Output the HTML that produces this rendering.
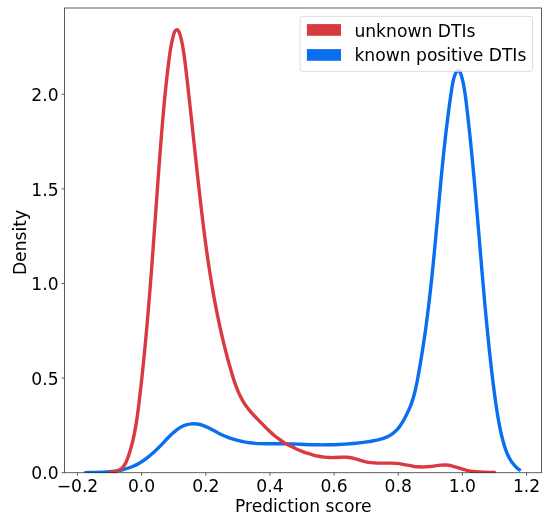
<!DOCTYPE html>
<html lang="en"><head><meta charset="utf-8"><title>Density of prediction scores</title>
<style>html,body{margin:0;padding:0;background:#fff}svg{display:block}text{font-family:"DejaVu Sans","Liberation Sans",sans-serif;font-size:17.15px;fill:#000}</style></head><body>
<svg width="550" height="520" viewBox="0 0 550 520">
<rect width="550" height="520" fill="#fff"/>
<defs><clipPath id="ax"><rect x="64.50" y="8.00" width="477.00" height="464.70"/></clipPath></defs>
<g clip-path="url(#ax)" fill="none" stroke-width="3.4" stroke-linejoin="round">
<path stroke="#096fef" d="M84.35 472.59C86.15 472.55 87.98 472.52 89.82 472.50C91.66 472.47 93.52 472.44 95.39 472.41C97.25 472.37 99.13 472.32 101.01 472.25C102.89 472.18 104.77 472.09 106.65 471.96C108.53 471.83 110.41 471.67 112.28 471.46C114.14 471.25 116.00 470.99 117.84 470.68C119.68 470.37 121.51 469.99 123.31 469.55C125.11 469.11 126.89 468.60 128.64 468.01C130.39 467.42 132.11 466.74 133.80 465.98C135.49 465.22 137.14 464.37 138.76 463.45C140.38 462.54 141.97 461.55 143.51 460.49C145.06 459.44 146.57 458.34 148.05 457.18C149.52 456.02 150.96 454.82 152.36 453.58C153.76 452.34 155.11 451.07 156.44 449.77C157.76 448.48 159.06 447.16 160.35 445.83C161.63 444.50 162.91 443.16 164.20 441.81C165.48 440.47 166.77 439.13 168.09 437.80C169.41 436.47 170.75 435.14 172.14 433.86C173.52 432.57 174.95 431.33 176.43 430.19C177.92 429.04 179.46 428.00 181.07 427.10C182.67 426.21 184.35 425.46 186.11 424.92C187.87 424.38 189.72 424.04 191.60 423.90C193.47 423.76 195.38 423.82 197.25 424.05C199.13 424.29 200.97 424.71 202.74 425.30C204.50 425.89 206.20 426.63 207.87 427.46C209.54 428.28 211.17 429.19 212.80 430.10C214.43 431.01 216.07 431.92 217.73 432.78C219.40 433.63 221.09 434.43 222.79 435.19C224.50 435.94 226.23 436.64 227.97 437.30C229.72 437.95 231.48 438.56 233.26 439.11C235.04 439.67 236.83 440.17 238.64 440.62C240.44 441.08 242.26 441.48 244.08 441.83C245.91 442.18 247.74 442.48 249.59 442.73C251.43 442.98 253.27 443.18 255.13 443.33C256.98 443.47 258.83 443.57 260.69 443.63C262.55 443.69 264.41 443.72 266.27 443.73C268.14 443.73 270.00 443.72 271.87 443.71C273.74 443.70 275.61 443.68 277.48 443.68C279.35 443.68 281.23 443.69 283.10 443.72C284.97 443.75 286.85 443.80 288.72 443.86C290.60 443.92 292.47 443.99 294.34 444.06C296.21 444.14 298.09 444.21 299.96 444.29C301.83 444.37 303.70 444.45 305.56 444.52C307.43 444.59 309.29 444.65 311.15 444.70C313.01 444.76 314.87 444.79 316.73 444.82C318.58 444.85 320.43 444.86 322.28 444.86C324.14 444.86 325.99 444.84 327.83 444.81C329.68 444.78 331.53 444.74 333.38 444.68C335.23 444.62 337.08 444.55 338.93 444.46C340.78 444.37 342.63 444.27 344.49 444.15C346.34 444.03 348.20 443.89 350.06 443.74C351.91 443.59 353.78 443.42 355.64 443.23C357.51 443.04 359.38 442.84 361.25 442.62C363.13 442.39 365.01 442.15 366.89 441.89C368.77 441.63 370.66 441.35 372.53 441.02C374.40 440.69 376.25 440.32 378.07 439.87C379.89 439.43 381.68 438.91 383.41 438.31C385.14 437.70 386.82 437.00 388.42 436.19C390.03 435.37 391.56 434.44 393.01 433.36C394.46 432.29 395.81 431.08 397.06 429.71C398.31 428.33 399.46 426.82 400.53 425.23C401.61 423.63 402.61 421.96 403.55 420.27C404.50 418.57 405.40 416.88 406.25 415.19C407.11 413.51 407.92 411.84 408.69 410.15C409.45 408.47 410.17 406.78 410.83 405.07C411.49 403.36 412.10 401.63 412.66 399.87C413.22 398.12 413.73 396.35 414.21 394.56C414.69 392.77 415.13 390.97 415.54 389.15C415.95 387.34 416.33 385.52 416.70 383.69C417.07 381.85 417.42 380.02 417.76 378.18C418.10 376.34 418.43 374.50 418.76 372.66C419.09 370.82 419.42 368.98 419.73 367.14C420.05 365.30 420.37 363.46 420.67 361.62C420.98 359.78 421.29 357.94 421.58 356.09C421.88 354.25 422.18 352.41 422.46 350.56C422.75 348.72 423.04 346.88 423.32 345.03C423.60 343.19 423.87 341.34 424.14 339.50C424.41 337.65 424.68 335.81 424.94 333.96C425.20 332.12 425.46 330.27 425.71 328.43C425.97 326.58 426.22 324.73 426.46 322.88C426.71 321.04 426.95 319.19 427.19 317.34C427.42 315.49 427.66 313.64 427.89 311.79C428.12 309.95 428.35 308.10 428.57 306.25C428.80 304.40 429.02 302.55 429.24 300.70C429.45 298.84 429.67 296.99 429.88 295.14C430.09 293.29 430.30 291.44 430.50 289.59C430.71 287.73 430.91 285.88 431.11 284.03C431.31 282.18 431.51 280.32 431.71 278.47C431.90 276.61 432.10 274.76 432.29 272.91C432.48 271.05 432.67 269.20 432.85 267.34C433.04 265.49 433.22 263.63 433.41 261.78C433.59 259.92 433.77 258.07 433.95 256.21C434.13 254.35 434.31 252.50 434.48 250.64C434.66 248.79 434.84 246.93 435.01 245.07C435.19 243.22 435.36 241.36 435.53 239.50C435.70 237.65 435.88 235.79 436.05 233.93C436.22 232.07 436.39 230.22 436.56 228.36C436.73 226.50 436.90 224.65 437.06 222.79C437.23 220.93 437.40 219.07 437.57 217.22C437.74 215.36 437.91 213.50 438.08 211.64C438.24 209.79 438.41 207.93 438.58 206.07C438.75 204.21 438.92 202.35 439.09 200.50C439.26 198.64 439.43 196.78 439.60 194.93C439.77 193.07 439.95 191.21 440.12 189.35C440.29 187.50 440.47 185.64 440.64 183.78C440.82 181.93 440.99 180.07 441.17 178.21C441.35 176.36 441.53 174.50 441.71 172.64C441.89 170.79 442.07 168.93 442.26 167.08C442.44 165.22 442.63 163.36 442.82 161.51C443.01 159.65 443.20 157.80 443.39 155.94C443.58 154.09 443.78 152.23 443.97 150.38C444.17 148.53 444.37 146.67 444.57 144.82C444.78 142.96 444.98 141.11 445.19 139.26C445.40 137.41 445.61 135.55 445.82 133.70C446.04 131.85 446.26 130.00 446.48 128.15C446.70 126.29 446.92 124.44 447.15 122.59C447.38 120.74 447.61 118.89 447.84 117.04C448.08 115.19 448.31 113.34 448.56 111.49C448.80 109.65 449.04 107.80 449.30 105.95C449.55 104.10 449.80 102.26 450.06 100.41C450.32 98.56 450.58 96.72 450.85 94.87C451.12 93.03 451.39 91.18 451.67 89.34C451.95 87.49 452.24 85.65 452.58 83.82C452.92 81.99 453.32 80.17 453.81 78.37C454.31 76.58 454.89 74.80 455.62 73.05C456.34 71.30 458.24 69.55 459.41 71.06C460.58 72.58 461.04 74.51 461.56 76.27C462.08 78.03 462.52 79.85 462.92 81.68C463.31 83.51 463.67 85.34 464.00 87.18C464.33 89.02 464.63 90.86 464.91 92.71C465.18 94.55 465.44 96.40 465.68 98.25C465.92 100.10 466.15 101.95 466.37 103.80C466.59 105.65 466.81 107.50 467.02 109.35C467.24 111.20 467.45 113.06 467.66 114.91C467.87 116.76 468.08 118.61 468.29 120.46C468.49 122.32 468.69 124.17 468.89 126.02C469.09 127.88 469.29 129.73 469.49 131.58C469.69 133.44 469.88 135.29 470.07 137.14C470.27 139.00 470.46 140.85 470.64 142.71C470.83 144.56 471.02 146.41 471.20 148.27C471.39 150.12 471.57 151.98 471.75 153.83C471.94 155.69 472.12 157.54 472.29 159.40C472.47 161.25 472.65 163.11 472.82 164.96C473.00 166.82 473.17 168.68 473.34 170.53C473.52 172.39 473.69 174.24 473.86 176.10C474.03 177.96 474.20 179.81 474.36 181.67C474.53 183.52 474.70 185.38 474.86 187.24C475.03 189.09 475.19 190.95 475.35 192.81C475.52 194.67 475.68 196.52 475.84 198.38C476.00 200.24 476.16 202.09 476.32 203.95C476.48 205.81 476.64 207.67 476.80 209.52C476.96 211.38 477.12 213.24 477.27 215.10C477.43 216.95 477.59 218.81 477.74 220.67C477.90 222.53 478.06 224.38 478.21 226.24C478.37 228.10 478.52 229.96 478.68 231.82C478.84 233.67 478.99 235.53 479.15 237.39C479.30 239.25 479.46 241.11 479.61 242.97C479.77 244.82 479.92 246.68 480.08 248.54C480.23 250.40 480.39 252.26 480.54 254.11C480.70 255.97 480.85 257.83 481.01 259.69C481.17 261.55 481.32 263.41 481.48 265.27C481.64 267.12 481.80 268.98 481.95 270.84C482.11 272.70 482.27 274.56 482.43 276.42C482.59 278.27 482.75 280.13 482.91 281.99C483.07 283.85 483.23 285.71 483.39 287.57C483.56 289.42 483.72 291.28 483.88 293.14C484.05 295.00 484.21 296.86 484.38 298.71C484.55 300.57 484.72 302.43 484.88 304.29C485.05 306.15 485.22 308.01 485.39 309.86C485.57 311.72 485.74 313.58 485.91 315.44C486.09 317.29 486.26 319.15 486.44 321.01C486.62 322.87 486.79 324.73 486.97 326.58C487.15 328.44 487.34 330.30 487.52 332.15C487.70 334.01 487.89 335.87 488.08 337.73C488.26 339.58 488.45 341.44 488.64 343.30C488.83 345.15 489.03 347.01 489.22 348.87C489.42 350.72 489.61 352.58 489.81 354.43C490.01 356.29 490.22 358.14 490.42 360.00C490.63 361.85 490.83 363.71 491.04 365.56C491.25 367.41 491.47 369.26 491.68 371.12C491.90 372.97 492.12 374.82 492.34 376.67C492.56 378.52 492.79 380.37 493.02 382.21C493.25 384.06 493.48 385.91 493.72 387.75C493.95 389.60 494.19 391.44 494.43 393.28C494.68 395.13 494.93 396.97 495.18 398.81C495.43 400.65 495.68 402.48 495.94 404.32C496.21 406.16 496.48 407.99 496.76 409.83C497.04 411.66 497.33 413.50 497.63 415.33C497.93 417.16 498.25 418.99 498.58 420.83C498.91 422.66 499.26 424.49 499.62 426.32C499.99 428.15 500.38 429.98 500.78 431.80C501.19 433.63 501.62 435.46 502.07 437.29C502.53 439.12 503.00 440.95 503.51 442.77C504.02 444.60 504.57 446.42 505.17 448.21C505.76 450.00 506.42 451.76 507.14 453.48C507.87 455.19 508.67 456.86 509.56 458.47C510.46 460.07 511.45 461.61 512.55 463.07C513.65 464.53 514.87 465.90 516.21 467.17C517.56 468.43 519.04 469.60 520.68 470.64"/>
<path stroke="#d93a3f" d="M108.34 472.36C110.00 472.34 111.90 472.16 113.80 471.77C115.69 471.38 117.59 470.78 119.26 469.92C120.94 469.05 122.34 467.89 123.46 466.50C124.59 465.11 125.47 463.51 126.23 461.81C126.99 460.10 127.63 458.31 128.24 456.52C128.86 454.73 129.43 452.94 129.98 451.14C130.53 449.34 131.04 447.54 131.53 445.73C132.01 443.92 132.47 442.11 132.90 440.29C133.32 438.47 133.73 436.65 134.11 434.82C134.49 433.00 134.84 431.17 135.18 429.33C135.52 427.50 135.84 425.67 136.14 423.83C136.44 421.99 136.72 420.15 136.99 418.30C137.27 416.46 137.52 414.61 137.77 412.77C138.02 410.92 138.26 409.07 138.49 407.22C138.72 405.37 138.95 403.52 139.17 401.67C139.39 399.82 139.61 397.96 139.82 396.11C140.04 394.26 140.25 392.41 140.46 390.56C140.67 388.70 140.88 386.85 141.09 385.00C141.29 383.14 141.49 381.29 141.70 379.44C141.90 377.58 142.10 375.73 142.29 373.88C142.49 372.02 142.68 370.17 142.88 368.31C143.07 366.46 143.26 364.61 143.45 362.75C143.63 360.90 143.82 359.04 144.01 357.19C144.19 355.33 144.37 353.48 144.55 351.62C144.73 349.76 144.91 347.91 145.09 346.05C145.26 344.20 145.44 342.34 145.61 340.48C145.78 338.63 145.96 336.77 146.13 334.91C146.29 333.06 146.46 331.20 146.63 329.34C146.80 327.49 146.96 325.63 147.12 323.77C147.29 321.91 147.45 320.06 147.61 318.20C147.77 316.34 147.93 314.48 148.08 312.62C148.24 310.77 148.40 308.91 148.55 307.05C148.71 305.19 148.86 303.33 149.01 301.47C149.17 299.62 149.32 297.76 149.47 295.90C149.62 294.04 149.77 292.18 149.91 290.32C150.06 288.46 150.21 286.60 150.35 284.74C150.50 282.88 150.65 281.02 150.79 279.16C150.93 277.30 151.08 275.44 151.22 273.58C151.36 271.73 151.50 269.87 151.64 268.01C151.78 266.15 151.92 264.29 152.06 262.43C152.20 260.57 152.34 258.70 152.48 256.84C152.62 254.98 152.75 253.12 152.89 251.26C153.03 249.40 153.16 247.54 153.30 245.68C153.44 243.82 153.57 241.96 153.71 240.10C153.84 238.24 153.98 236.38 154.11 234.52C154.25 232.66 154.38 230.80 154.51 228.94C154.65 227.08 154.78 225.21 154.92 223.35C155.05 221.49 155.18 219.63 155.32 217.77C155.45 215.91 155.58 214.05 155.72 212.19C155.85 210.33 155.99 208.47 156.12 206.61C156.25 204.75 156.39 202.88 156.52 201.02C156.66 199.16 156.79 197.30 156.92 195.44C157.06 193.58 157.19 191.72 157.33 189.86C157.46 188.00 157.60 186.14 157.73 184.28C157.87 182.41 158.01 180.55 158.14 178.69C158.28 176.83 158.42 174.97 158.56 173.11C158.69 171.25 158.83 169.39 158.97 167.53C159.11 165.67 159.25 163.81 159.39 161.95C159.53 160.09 159.67 158.23 159.81 156.37C159.96 154.51 160.10 152.65 160.24 150.79C160.39 148.93 160.53 147.07 160.68 145.21C160.82 143.35 160.97 141.49 161.12 139.63C161.26 137.77 161.41 135.91 161.56 134.05C161.71 132.19 161.86 130.33 162.02 128.47C162.17 126.61 162.33 124.75 162.48 122.89C162.64 121.03 162.80 119.18 162.96 117.32C163.12 115.46 163.28 113.60 163.45 111.74C163.62 109.89 163.78 108.03 163.96 106.17C164.13 104.31 164.30 102.46 164.48 100.60C164.65 98.74 164.84 96.89 165.02 95.03C165.20 93.18 165.39 91.32 165.58 89.47C165.77 87.61 165.97 85.76 166.16 83.90C166.36 82.05 166.56 80.20 166.77 78.34C166.98 76.49 167.19 74.64 167.40 72.79C167.62 70.94 167.84 69.09 168.06 67.24C168.29 65.38 168.51 63.53 168.75 61.69C168.98 59.84 169.22 57.99 169.47 56.14C169.72 54.29 169.99 52.45 170.27 50.61C170.56 48.76 170.87 46.93 171.22 45.09C171.56 43.26 171.94 41.43 172.36 39.60C172.78 37.78 173.20 35.94 173.77 34.16C174.33 32.37 175.09 29.80 176.82 29.74C178.55 29.67 179.26 32.45 179.88 34.21C180.49 35.97 180.96 37.78 181.37 39.60C181.78 41.42 182.13 43.26 182.47 45.09C182.81 46.93 183.12 48.77 183.41 50.61C183.71 52.45 183.98 54.29 184.24 56.14C184.50 57.99 184.74 59.84 184.97 61.69C185.21 63.54 185.43 65.39 185.65 67.24C185.87 69.09 186.08 70.94 186.30 72.80C186.51 74.65 186.72 76.50 186.94 78.36C187.15 80.21 187.36 82.06 187.57 83.92C187.78 85.77 187.99 87.62 188.20 89.48C188.40 91.33 188.61 93.19 188.82 95.04C189.02 96.89 189.23 98.75 189.43 100.60C189.64 102.46 189.84 104.31 190.04 106.17C190.25 108.02 190.45 109.88 190.65 111.73C190.85 113.59 191.06 115.44 191.26 117.29C191.46 119.15 191.66 121.00 191.86 122.86C192.06 124.71 192.26 126.57 192.46 128.42C192.66 130.28 192.86 132.13 193.06 133.99C193.26 135.84 193.46 137.70 193.66 139.56C193.85 141.41 194.05 143.27 194.25 145.12C194.45 146.98 194.65 148.83 194.85 150.69C195.05 152.54 195.25 154.40 195.45 156.25C195.65 158.11 195.85 159.96 196.05 161.81C196.26 163.67 196.46 165.52 196.66 167.38C196.86 169.23 197.06 171.09 197.27 172.94C197.47 174.80 197.67 176.65 197.88 178.51C198.08 180.36 198.29 182.21 198.49 184.07C198.70 185.92 198.91 187.78 199.11 189.63C199.32 191.48 199.53 193.34 199.74 195.19C199.95 197.04 200.16 198.90 200.37 200.75C200.59 202.60 200.80 204.45 201.02 206.31C201.23 208.16 201.45 210.01 201.67 211.86C201.89 213.71 202.11 215.57 202.33 217.42C202.55 219.27 202.78 221.12 203.01 222.97C203.23 224.82 203.46 226.67 203.70 228.52C203.93 230.37 204.16 232.22 204.40 234.07C204.64 235.92 204.88 237.76 205.12 239.61C205.37 241.46 205.61 243.31 205.86 245.15C206.11 247.00 206.37 248.85 206.62 250.69C206.88 252.54 207.14 254.38 207.41 256.23C207.67 258.07 207.94 259.91 208.21 261.76C208.48 263.60 208.76 265.44 209.04 267.28C209.32 269.12 209.60 270.96 209.89 272.80C210.18 274.64 210.47 276.48 210.77 278.32C211.07 280.16 211.37 282.00 211.68 283.84C211.98 285.67 212.30 287.51 212.61 289.34C212.93 291.18 213.25 293.01 213.58 294.85C213.91 296.68 214.24 298.51 214.58 300.34C214.92 302.17 215.27 304.00 215.62 305.83C215.97 307.66 216.32 309.49 216.69 311.32C217.05 313.15 217.42 314.97 217.79 316.80C218.17 318.62 218.55 320.45 218.94 322.27C219.33 324.09 219.72 325.92 220.12 327.74C220.52 329.56 220.93 331.38 221.35 333.20C221.76 335.01 222.18 336.83 222.61 338.65C223.04 340.46 223.48 342.28 223.92 344.09C224.37 345.90 224.82 347.72 225.28 349.53C225.74 351.34 226.21 353.15 226.68 354.96C227.16 356.76 227.64 358.57 228.13 360.38C228.62 362.18 229.12 363.99 229.63 365.79C230.14 367.59 230.66 369.39 231.18 371.19C231.71 372.99 232.24 374.79 232.79 376.58C233.34 378.37 233.91 380.15 234.51 381.92C235.11 383.69 235.73 385.45 236.39 387.19C237.05 388.92 237.75 390.64 238.49 392.33C239.23 394.03 240.02 395.69 240.86 397.33C241.70 398.96 242.60 400.57 243.56 402.14C244.52 403.70 245.54 405.23 246.64 406.72C247.73 408.21 248.90 409.66 250.10 411.08C251.31 412.50 252.56 413.89 253.84 415.26C255.13 416.63 256.43 417.99 257.75 419.34C259.06 420.68 260.38 422.02 261.70 423.36C263.01 424.71 264.31 426.05 265.62 427.37C266.93 428.70 268.25 430.01 269.60 431.28C270.94 432.56 272.32 433.80 273.73 434.99C275.15 436.19 276.60 437.33 278.09 438.43C279.59 439.52 281.12 440.57 282.68 441.58C284.24 442.59 285.84 443.55 287.46 444.46C289.08 445.38 290.73 446.25 292.41 447.09C294.08 447.92 295.78 448.71 297.49 449.46C299.21 450.21 300.94 450.92 302.69 451.59C304.43 452.26 306.20 452.89 307.97 453.47C309.75 454.05 311.54 454.58 313.34 455.05C315.15 455.53 316.96 455.94 318.79 456.29C320.62 456.64 322.45 456.93 324.30 457.14C326.15 457.35 328.00 457.49 329.87 457.55C331.73 457.61 333.61 457.58 335.49 457.50C337.36 457.41 339.24 457.29 341.12 457.21C342.99 457.14 344.86 457.11 346.71 457.22C348.56 457.32 350.38 457.59 352.20 457.99C354.01 458.40 355.81 458.92 357.60 459.47C359.40 460.02 361.19 460.59 362.99 461.09C364.79 461.60 366.60 462.01 368.42 462.31C370.24 462.60 372.08 462.79 373.93 462.91C375.77 463.03 377.63 463.08 379.49 463.09C381.35 463.11 383.21 463.10 385.08 463.09C386.95 463.08 388.82 463.08 390.68 463.11C392.55 463.15 394.41 463.23 396.27 463.39C398.12 463.54 399.97 463.79 401.82 464.11C403.66 464.43 405.50 464.80 407.33 465.17C409.17 465.54 411.00 465.91 412.84 466.20C414.68 466.49 416.52 466.71 418.36 466.82C420.21 466.93 422.05 466.95 423.91 466.90C425.76 466.85 427.62 466.72 429.48 466.53C431.34 466.35 433.21 466.10 435.08 465.84C436.95 465.58 438.82 465.32 440.68 465.15C442.54 464.98 444.39 464.90 446.23 464.98C448.06 465.07 449.88 465.36 451.68 465.80C453.48 466.24 455.27 466.81 457.06 467.42C458.85 468.03 460.64 468.67 462.43 469.24C464.23 469.81 466.03 470.30 467.85 470.67C469.67 471.04 471.51 471.33 473.35 471.54C475.19 471.75 477.04 471.90 478.90 472.01C480.76 472.12 482.63 472.19 484.50 472.25C486.37 472.30 488.24 472.33 490.11 472.35C491.98 472.37 493.84 472.38 495.70 472.40"/>
</g>
<g stroke="#000" stroke-width="0.9" fill="none" opacity="0.7">
<rect x="64.50" y="8.00" width="477.00" height="464.70"/>
<line x1="77.44" y1="472.70" x2="77.44" y2="475.70"/>
<line x1="141.60" y1="472.70" x2="141.60" y2="475.70"/>
<line x1="205.76" y1="472.70" x2="205.76" y2="475.70"/>
<line x1="269.92" y1="472.70" x2="269.92" y2="475.70"/>
<line x1="334.08" y1="472.70" x2="334.08" y2="475.70"/>
<line x1="398.24" y1="472.70" x2="398.24" y2="475.70"/>
<line x1="462.40" y1="472.70" x2="462.40" y2="475.70"/>
<line x1="526.56" y1="472.70" x2="526.56" y2="475.70"/>
<line x1="64.50" y1="472.70" x2="61.60" y2="472.70"/>
<line x1="64.50" y1="378.10" x2="61.60" y2="378.10"/>
<line x1="64.50" y1="283.50" x2="61.60" y2="283.50"/>
<line x1="64.50" y1="188.90" x2="61.60" y2="188.90"/>
<line x1="64.50" y1="94.30" x2="61.60" y2="94.30"/>
</g>
<text x="77.44" y="491.8" text-anchor="middle">−0.2</text>
<text x="141.60" y="491.8" text-anchor="middle">0.0</text>
<text x="205.76" y="491.8" text-anchor="middle">0.2</text>
<text x="269.92" y="491.8" text-anchor="middle">0.4</text>
<text x="334.08" y="491.8" text-anchor="middle">0.6</text>
<text x="398.24" y="491.8" text-anchor="middle">0.8</text>
<text x="462.40" y="491.8" text-anchor="middle">1.0</text>
<text x="526.56" y="491.8" text-anchor="middle">1.2</text>
<text x="58.6" y="479.30" text-anchor="end">0.0</text>
<text x="58.6" y="384.70" text-anchor="end">0.5</text>
<text x="58.6" y="290.10" text-anchor="end">1.0</text>
<text x="58.6" y="195.50" text-anchor="end">1.5</text>
<text x="58.6" y="100.90" text-anchor="end">2.0</text>
<text x="303.3" y="511.6" text-anchor="middle">Prediction score</text>
<text transform="translate(25.6 242.5) rotate(-90)" text-anchor="middle">Density</text>
<rect x="300.1" y="16.4" width="232.4" height="55.0" rx="2.2" ry="2.2" fill="#fff" fill-opacity="0.8" stroke="#ccc" stroke-opacity="0.8" stroke-width="0.85"/>
<rect x="306.9" y="24.1" width="34.1" height="11.7" fill="#d93a3f"/>
<rect x="306.9" y="49.1" width="34.1" height="11.7" fill="#096fef"/>
<text x="354.4" y="37.1">unknown DTIs</text>
<text x="354.4" y="61.4">known positive DTIs</text>
</svg></body></html>
